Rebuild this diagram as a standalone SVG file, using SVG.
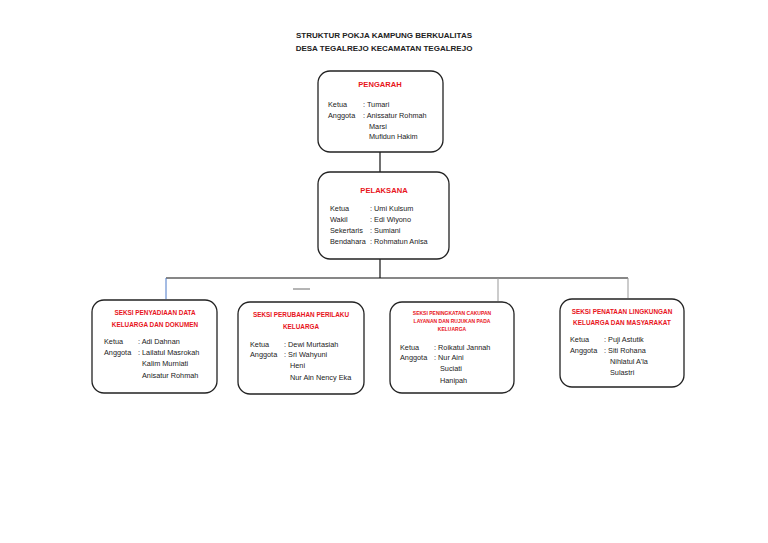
<svg xmlns="http://www.w3.org/2000/svg" width="768" height="543" viewBox="0 0 768 543">
<defs>
<style>
.box{fill:#fff;stroke:#222;stroke-width:1.3}
.t{font-family:"Liberation Sans",Arial,sans-serif;font-size:7.3px;fill:#222}
.h{font-family:"Liberation Sans",Arial,sans-serif;font-weight:bold;font-size:7.6px;fill:#e8141c;text-anchor:middle}
.hs{font-family:"Liberation Sans",Arial,sans-serif;font-weight:bold;font-size:6.4px;fill:#e8141c;text-anchor:middle}
.hx{font-family:"Liberation Sans",Arial,sans-serif;font-weight:bold;font-size:5px;fill:#e8141c;text-anchor:middle}
.ti{font-family:"Liberation Sans",Arial,sans-serif;font-weight:bold;font-size:8px;fill:#222;text-anchor:middle}
.c{fill:none;stroke:#111;stroke-width:1.2}
</style>
</defs>
<rect width="768" height="543" fill="#fff"/>
<g id="title">
<text class="ti" x="384" y="38">STRUKTUR POKJA KAMPUNG BERKUALITAS</text>
<text class="ti" x="384" y="51">DESA TEGALREJO KECAMATAN TEGALREJO</text>
</g>
<g id="connectors">
<line class="c" x1="380" y1="152" x2="380" y2="172"/>
<line class="c" x1="380" y1="259" x2="380" y2="278"/>
<line class="c" x1="166" y1="278" x2="628" y2="278"/>
<line x1="166" y1="278" x2="166" y2="299" stroke="#4a78c8" stroke-width="1"/>
<line x1="498" y1="278" x2="498" y2="301" stroke="#999" stroke-width="1"/>
<line x1="628" y1="278" x2="628" y2="298" stroke="#999" stroke-width="1"/>
<line x1="293" y1="289" x2="310" y2="289" stroke="#444" stroke-width="0.8"/>
</g>
<g id="pengarah">
<rect class="box" x="318" y="71" width="125" height="81" rx="12"/>
<text class="h" x="380" y="87">PENGARAH</text>
<text class="t" x="328" y="107">Ketua</text><text class="t" x="363" y="107">: Tumari</text>
<text class="t" x="328" y="118">Anggota</text><text class="t" x="363" y="118">:  Anissatur Rohmah</text>
<text class="t" x="369" y="129">Marsi</text>
<text class="t" x="369" y="139">Mufidun Hakim</text>
</g>
<g id="pelaksana">
<rect class="box" x="318" y="172" width="131" height="87" rx="12"/>
<text class="h" x="384" y="193">PELAKSANA</text>
<text class="t" x="330" y="211">Ketua</text><text class="t" x="370" y="211">: Umi Kulsum</text>
<text class="t" x="330" y="222">Wakil</text><text class="t" x="370" y="222">: Edi Wiyono</text>
<text class="t" x="330" y="233">Sekertaris</text><text class="t" x="370" y="233">: Sumiani</text>
<text class="t" x="330" y="244">Bendahara</text><text class="t" x="370" y="244">: Rohmatun Anisa</text>
</g>
<g id="seksi1">
<rect class="box" x="92" y="300" width="125" height="93" rx="12"/>
<text class="hs" x="155" y="315">SEKSI PENYADIAAN DATA</text>
<text class="hs" x="155" y="327">KELUARGA DAN DOKUMEN</text>
<text class="t" x="104" y="344">Ketua</text><text class="t" x="138" y="344">: Adi Dahnan</text>
<text class="t" x="104" y="355">Anggota</text><text class="t" x="138" y="355">: Lailatul Masrokah</text>
<text class="t" x="142" y="366">Kalim Murniati</text>
<text class="t" x="142" y="378">Anisatur Rohmah</text>
</g>
<g id="seksi2">
<rect class="box" x="238" y="302" width="126" height="92" rx="12"/>
<text class="hs" x="301" y="317">SEKSI PERUBAHAN PERILAKU</text>
<text class="hs" x="301" y="329">KELUARGA</text>
<text class="t" x="250" y="347">Ketua</text><text class="t" x="284" y="347">: Dewi Murtasiah</text>
<text class="t" x="250" y="357">Anggota</text><text class="t" x="284" y="357">:  Sri Wahyuni</text>
<text class="t" x="290" y="368">Heni</text>
<text class="t" x="290" y="380">Nur Ain Nency Eka</text>
</g>
<g id="seksi3">
<rect class="box" x="390" y="302" width="124" height="91" rx="12"/>
<text class="hx" x="452" y="315">SEKSI PENINGKATAN CAKUPAN</text>
<text class="hx" x="452" y="323">LAYANAN DAN RUJUKAN PADA</text>
<text class="hx" x="452" y="331">KELUARGA</text>
<text class="t" x="400" y="350">Ketua</text><text class="t" x="434" y="350">: Roikatul Jannah</text>
<text class="t" x="400" y="360">Anggota</text><text class="t" x="434" y="360">:  Nur Aini</text>
<text class="t" x="440" y="371">Suciati</text>
<text class="t" x="440" y="383">Hanipah</text>
</g>
<g id="seksi4">
<rect class="box" x="560" y="299" width="124" height="88" rx="12"/>
<text class="hs" x="622" y="314">SEKSI PENATAAN LINGKUNGAN</text>
<text class="hs" x="622" y="325">KELUARGA DAN MASYARAKAT</text>
<text class="t" x="570" y="342">Ketua</text><text class="t" x="604" y="342">: Puji Astutik</text>
<text class="t" x="570" y="353">Anggota</text><text class="t" x="604" y="353">:  Siti Rohana</text>
<text class="t" x="610" y="364">Nihlatul A'la</text>
<text class="t" x="610" y="375">Sulastri</text>
</g>
</svg>
